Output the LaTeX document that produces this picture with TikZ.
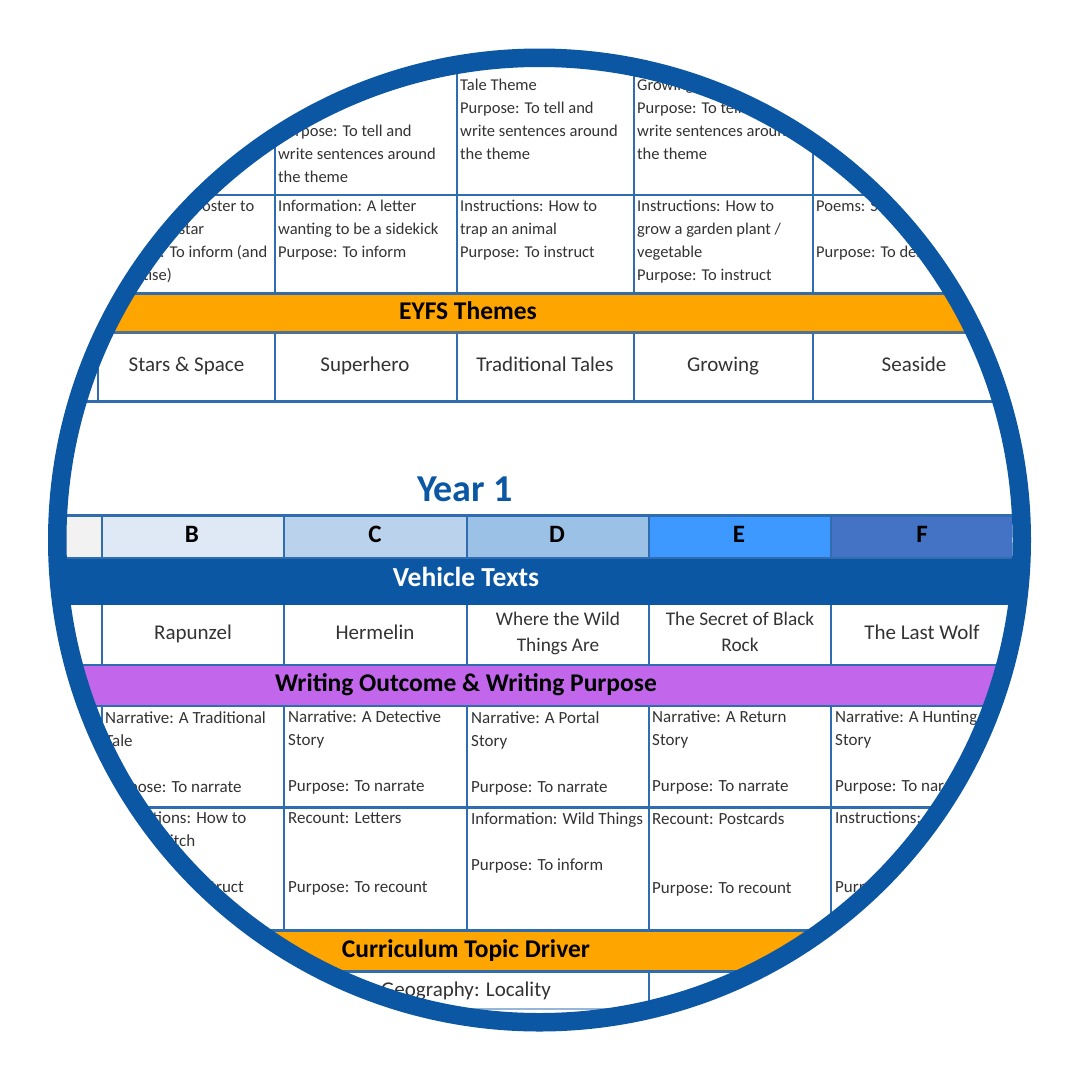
\documentclass[tikz,border=0pt]{standalone}
\usepackage{fontspec}
\setmainfont{Carlito}
\definecolor{ringblue}{HTML}{0B57A3}
\definecolor{gridblue}{HTML}{2F6DB0}
\definecolor{bandorange}{HTML}{FFA500}
\definecolor{bandpurple}{HTML}{C266EC}
\definecolor{cellB}{HTML}{DEE9F5}
\definecolor{cellC}{HTML}{BAD2EB}
\definecolor{cellD}{HTML}{9CC1E6}
\definecolor{cellE}{HTML}{3D98FF}
\definecolor{cellF}{HTML}{4472C4}
\definecolor{cellA}{HTML}{F2F2F2}
\definecolor{inktext}{HTML}{333333}
\tikzset{
  gridline/.style={draw=gridblue,line width=2.3pt},
  celltext/.style={anchor=north west,inner sep=0pt,align=left,text=inktext,
    font=\fontsize{16.5}{23}\selectfont,execute at begin node=\strut},
  celltextb/.style={celltext,font=\fontsize{17}{23}\selectfont},
  bigtext/.style={anchor=center,inner sep=0pt,align=center,text=inktext,
    font=\fontsize{21}{26.5}\selectfont,execute at begin node=\strut,execute at end node=\strut},
  twoline/.style={bigtext,font=\fontsize{19.3}{26.5}\selectfont},
  bandtext/.style={anchor=center,inner sep=0pt,text=black,
    font=\fontsize{25.5}{26}\selectfont\bfseries,execute at begin node=\strut},
  lettertext/.style={anchor=center,inner sep=0pt,text=black,
    font=\fontsize{25}{26}\selectfont\bfseries,execute at begin node=\strut},
}
\begin{document}
\begin{tikzpicture}[x=1pt,y=-1pt]
\useasboundingbox (0,0) rectangle (1080,1080);
\fill[white] (0,0) rectangle (1080,1080);
\begin{scope}
\clip (539.5,540) circle[radius=475pt];
% --- upper table ---
\fill[bandorange] (0,294) rectangle (1080,332);
\foreach \xx in {98,275,457,634,813}{
  \draw[gridline] (\xx,333) -- (\xx,401);
  \ifnum\xx=98\else\draw[gridline] (\xx,0) -- (\xx,293);\fi
}
\draw[gridline] (0,195) -- (1080,195);
\draw[gridline] (0,293.5) -- (1080,293.5);
\draw[draw=gridblue!70!black!80,line width=2.3pt] (0,332.5) -- (1080,332.5);
\draw[gridline] (0,401.5) -- (1080,401.5);
\node[celltext] (t1b) at (278,125) {Purpose: To tell and\\write sentences around\\the theme};
\node[celltext] (t2a) at (460,79) {Tale Theme\\Purpose: To tell and\\write sentences around\\the theme};
\node[celltext] (t3a) at (637,79) {Growing Theme\\Purpose: To tell and\\write sentences around\\the theme};
\node[celltext] (r1) at (105,200) {Information: Poster to\\find a new star\\Purpose: To inform (and\\advertise)};
\node[celltext] (r2) at (278,200) {Information: A letter\\wanting to be a sidekick\\Purpose: To inform};
\node[celltext] (r3) at (460,200) {Instructions: How to\\trap an animal\\Purpose: To instruct};
\node[celltext] (r4) at (637,200) {Instructions: How to\\grow a garden plant /\\vegetable\\Purpose: To instruct};
\node[celltext] (r5) at (816,200) {Poems: Seaside\\[23pt]Purpose: To describe};
\node[bandtext] (eyfs) at (468,314) {EYFS Themes};
\node[bigtext] (th1) at (186.5,366) {Stars \& Space};
\node[bigtext] (th2) at (365,366) {Superhero};
\node[bigtext] (th3) at (545,366) {Traditional Tales};
\node[bigtext] (th4) at (723,366) {Growing};
\node[bigtext] (th5) at (914,366) {Seaside};
% --- Year 1 ---
\node[anchor=center,inner sep=0pt,text=ringblue,font=\fontsize{38}{40}\selectfont\bfseries] (year) at (465,489) {Year 1};
\fill[cellA] (0,516) rectangle (102,558);
\fill[cellB] (102,516) rectangle (284,558);
\fill[cellC] (284,516) rectangle (467,558);
\fill[cellD] (467,516) rectangle (649,558);
\fill[cellE] (649,516) rectangle (831,558);
\fill[cellF] (831,516) rectangle (1012,558);
\fill[ringblue] (0,558) rectangle (1080,605);
\fill[bandpurple] (0,665) rectangle (1080,706);
\fill[bandorange] (0,931) rectangle (1080,971);
\foreach \xx in {102,284,467,649,831}{
  \draw[gridline] (\xx,516) -- (\xx,558);
  \draw[gridline] (\xx,605) -- (\xx,665);
  \draw[gridline] (\xx,706) -- (\xx,931);
}
\draw[gridline] (649,971) -- (649,1040);
\draw[gridline] (0,515.5) -- (1080,515.5);
\draw[gridline] (0,558) -- (1012,558);
\draw[gridline] (0,665) -- (1080,665);
\draw[gridline] (0,706) -- (1080,706);
\draw[gridline] (0,807.5) -- (1080,807.5);
\draw[gridline] (0,930.5) -- (1080,930.5);
\draw[gridline] (0,971.5) -- (1080,971.5);
\draw[draw=gridblue!50,line width=1.8pt] (0,1009) -- (649,1009);
\node[lettertext] (B) at (192,537.5) {B};
\node[lettertext] (C) at (375,537.5) {C};
\node[lettertext] (D) at (557,537.5) {D};
\node[lettertext] (E) at (739,537.5) {E};
\node[lettertext] (F) at (922,537.5) {F};
\node[bandtext,text=white,font=\fontsize{27.5}{26}\selectfont\bfseries] (veh) at (466,580.5) {Vehicle Texts};
\node[bigtext] (v1) at (193,634) {Rapunzel};
\node[bigtext] (v2) at (375,634) {Hermelin};
\node[twoline] (v3) at (558,636) {Where the Wild\\Things Are};
\node[twoline] (v4) at (740,636) {The Secret of Black\\Rock};
\node[bigtext] (v5) at (922,634) {The Last Wolf};
\node[bandtext] (wo) at (466,686.5) {Writing Outcome \& Writing Purpose};
\node[celltextb] (a1) at (105,711) {Narrative: A Traditional\\Tale\\[23pt]Purpose: To narrate};
\node[celltextb] (a2) at (288,711) {Narrative: A Detective\\Story\\[23pt]Purpose: To narrate};
\node[celltextb] (a3) at (471,711) {Narrative: A Portal\\Story\\[23pt]Purpose: To narrate};
\node[celltextb] (a4) at (652,711) {Narrative: A Return\\Story\\[23pt]Purpose: To narrate};
\node[celltextb] (a5) at (835,711) {Narrative: A Hunting\\Story\\[23pt]Purpose: To narrate};
\node[celltextb] (b1) at (105,812) {Instructions: How to\\catch a witch\\[23pt]Purpose: To instruct};
\node[celltextb] (b2) at (288,812) {Recount: Letters\\[46pt]Purpose: To recount};
\node[celltextb] (b3) at (471,812) {Information: Wild Things\\[23pt]Purpose: To inform};
\node[celltextb] (b4) at (652,812) {Recount: Postcards\\[46pt]Purpose: To recount};
\node[celltextb] (b5) at (835,812) {Instructions: How to\\[46pt]Purpose: To instruct};
\node[bandtext] (ctd) at (466,952) {Curriculum Topic Driver};
\node[bigtext] (geo) at (466,991) {Geography: Locality};
\node[bigtext] (rgt) at (740,991) {Design};
\end{scope}
\draw[ringblue,line width=18.5pt] (539.5,540) circle[radius=482.25pt];
\end{tikzpicture}
\end{document}
